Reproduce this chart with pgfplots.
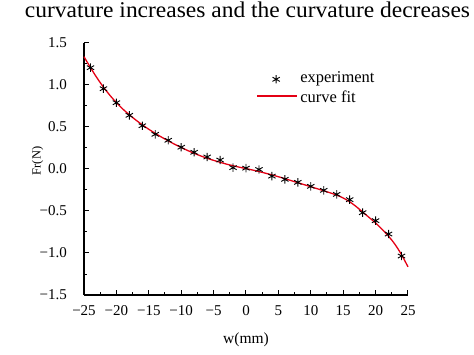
\documentclass[border=0pt]{standalone}
\usepackage{pgfplots}
\pgfplotsset{compat=1.18}
\usepackage{fontspec}
\setmainfont{Liberation Serif}
\definecolor{fitred}{RGB}{228,0,20}
\pgfplotsset{
  markleg/.style={legend image code/.code={\path (0bp,0bp) (40bp,0bp); \draw[##1] plot coordinates {(20bp,0bp)};}},
  spaceleg/.style={legend image code/.code={\path (0bp,0bp) (40bp,0bp);}},
}

\begin{document}
\begin{tikzpicture}
\useasboundingbox (-84bp,-60bp) rectangle (390bp,295bp);
\begin{axis}[
  at={(0,0)}, anchor=south west,
  scale only axis, width=324bp, height=252bp,
  xmin=-25, xmax=25, ymin=-1.5, ymax=1.5,
  axis x line*=bottom, axis y line*=left,
  axis line style={line width=1.2bp, -},
  xtick={-25,-20,-15,-10,-5,0,5,10,15,20,25},
  xticklabels={−25,−20,−15,−10,−5,0,5,10,15,20,25},
  ytick={-1.5,-1,-0.5,0,0.5,1,1.5},
  yticklabels={−1.5,−1.0,−0.5,0.0,0.5,1.0,1.5},
  minor x tick num=1, minor y tick num=1,
  tick align=inside,
  major tick length=5bp, minor tick length=3bp,
  every tick/.style={black, line width=1bp},
  xticklabel style={font=\fontsize{15bp}{15bp}\selectfont, anchor=north, inner sep=0pt, yshift=-10bp},
  yticklabel style={font=\fontsize{15bp}{15bp}\selectfont, anchor=east, inner sep=0pt, xshift=-17bp},
  xlabel={w(mm)},
  xlabel style={font=\fontsize{15.5bp}{15.5bp}\selectfont, at={(axis description cs:0.5,0)}, anchor=center, yshift=-45bp},
  legend cell align=left,
  legend style={draw=none, fill=none, at={(0.5293,0.8917)}, anchor=north west,
    inner sep=0pt, outer sep=0pt, font=\fontsize{16.5bp}{16.5bp}\selectfont,
    row sep=2bp, column sep=2bp,
    nodes={inner sep=1.5bp, text height=11bp, text depth=4bp}},
  clip=false,
]
\addplot[only marks, mark=asterisk, mark size=4.2bp, black, mark options={line width=0.9bp}, markleg]
coordinates {
(-24,1.206) (-22,0.956) (-20,0.789) (-18,0.639) (-16,0.515) (-14,0.413)
(-12,0.342) (-10,0.259) (-8,0.199) (-6,0.143) (-4,0.107) (-2,0.016)
(0,0.010) (2,-0.006) (4,-0.085) (6,-0.123) (8,-0.159) (10,-0.206)
(12,-0.254) (14,-0.302) (16,-0.365) (18,-0.520) (20,-0.615) (22,-0.774)
(24,-1.036)
};
\addlegendentry{experiment}
\addplot[color=fitred, line width=1.3bp, smooth, spaceleg]
coordinates {
(-25,1.337) (-24,1.207) (-23,1.085) (-22,0.975) (-21,0.877) (-20,0.790)
(-19,0.713) (-18,0.645) (-17,0.583) (-16,0.526) (-15,0.473) (-14,0.424)
(-13,0.378) (-12,0.335) (-11,0.294) (-10,0.256) (-9,0.220) (-8,0.187)
(-7,0.156) (-6,0.128) (-5,0.103) (-4,0.080) (-3,0.058) (-2,0.039)
(-1,0.021) (0,0.005) (1,-0.012) (2,-0.030) (3,-0.050) (4,-0.070)
(5,-0.092) (6,-0.115) (7,-0.139) (8,-0.163) (9,-0.187) (10,-0.211)
(11,-0.235) (12,-0.259) (13,-0.284) (14,-0.311) (15,-0.345) (16,-0.390)
(17,-0.447) (18,-0.512) (19,-0.577) (20,-0.643) (21,-0.718) (22,-0.800)
(23,-0.898) (24,-1.020) (25,-1.165)
};
\addlegendentry{curve fit}
\end{axis}
\draw[fitred, line width=1.3bp] (173bp,199bp) -- (213bp,199bp);
\node[rotate=90, anchor=center, font=\fontsize{12.5bp}{12.5bp}\selectfont, inner sep=0pt] at (-46.5bp,134bp) {Fr(N)};
\node[anchor=base, font=\fontsize{22.5bp}{23bp}\selectfont, inner sep=0pt] at (163.5bp,277.5bp) {\resizebox{445bp}{\height}{curvature increases and the curvature decreases}};
\end{tikzpicture}
\end{document}
